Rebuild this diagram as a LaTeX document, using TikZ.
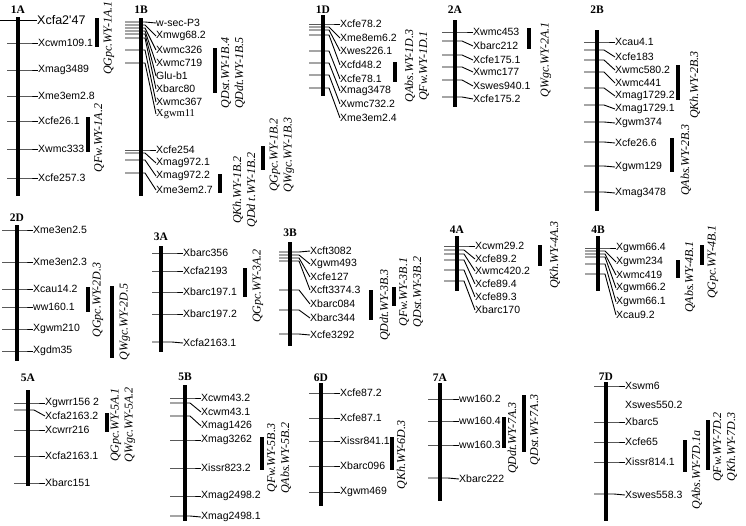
\documentclass[tikz,border=0pt]{standalone}
\usepackage{fontspec}
\setmainfont{Liberation Serif}
\newfontfamily\lab{Liberation Sans}
\newcounter{lb}
\tikzset{
 chrbar/.style={line width=3.6pt},
 tick/.style={line width=0.9pt},
 qbar/.style={line width=4pt},
 mlabel/.style={anchor=west,inner sep=0pt,font=\lab\fontsize{10.5}{12}\selectfont},
 qlabel/.style={rotate=90,inner sep=0pt,font=\itshape\fontsize{12}{13}\selectfont},
 ctitle/.style={inner sep=0pt,font=\bfseries\fontsize{11.5}{13}\selectfont}
}
% \mk{barx}{ticky}{labely}{text}
\newcommand\mk[4]{\stepcounter{lb}%
 \node[mlabel] (L\arabic{lb}) at (#1+18,#3) {#4};
 \draw[tick] (#1-13,#2) -- (#1+7,#2) -- (L\arabic{lb}.west);}
\newcommand\mn[3]{\stepcounter{lb}\node[mlabel] (L\arabic{lb}) at (#1+18,#2) {#3};}
\newcommand\chr[5]{\stepcounter{lb}\node[ctitle] (T\arabic{lb}) at (#1,#2) {#3};
 \draw[chrbar] (#1,#4) -- (#1,#5);}
\newcommand\qtl[3]{\draw[qbar] (#1,#2) -- (#1,#3);}
\newcommand\ql[3]{\stepcounter{lb}\node[qlabel] (Q\arabic{lb}) at (#1,#2) {#3};}
\begin{document}
\begin{tikzpicture}[x=1pt,y=-1pt]
\useasboundingbox[fill=white] (0,0) rectangle (746,525);
% 1A
\chr{18}{10}{1A}{17}{196}
\stepcounter{lb}\node[mlabel,font=\lab\fontsize{12.5}{14}\selectfont] (L\arabic{lb}) at (37,20) {Xcfa2'47};
\draw[tick] (0,20) -- (L\arabic{lb}.west);
\mk{20}{43}{43}{Xcwm109.1}
\mk{20}{70}{70}{Xmag3489}
\mk{20}{96}{96}{Xme3em2.8}
\mk{20}{121}{121}{Xcfe26.1}
\mk{20}{149}{149}{Xwmc333}
\mk{20}{178}{178}{Xcfe257.3}
\qtl{97}{18}{47}\ql{109}{38}{QGpc.WY-1A.1}
\qtl{88}{117}{152}\ql{99}{138}{QFw.WY-1A.2}
% 1B
\chr{141}{10}{1B}{18}{196}
\mk{138}{22}{23}{w-sec-P3}
\mk{138}{25}{36}{Xmwg68.2}
\mk{138}{28}{50}{Xwmc326}
\mk{138}{31}{63}{Xwmc719}
\mk{138}{34}{76}{Glu-b1}
\mk{138}{38}{89}{Xbarc80}
\mk{138}{50}{102}{Xwmc367}
\stepcounter{lb}\node[mlabel,font=\fontsize{10.5}{12}\selectfont] (L\arabic{lb}) at (156,114) {Xgwm11};
\draw[tick] (125,63) -- (145,63) -- (L\arabic{lb}.west);
\mk{138}{150}{150}{Xcfe254}
\mk{138}{153}{163}{Xmag972.1}
\mk{138}{160}{176}{Xmag972.2}
\mk{138}{173}{190}{Xme3em2.7}
\qtl{215}{48}{93}\ql{226}{73}{QDst.WY-1B.4}\ql{240}{73}{QDdt.WY-1B.5}
\qtl{220}{174}{193}\ql{238}{190}{QKh.WY-1B.2}\ql{252}{190}{QDd t.WY-1B.2}
\qtl{263}{146}{170}\ql{275}{155}{QGpc.WY-1B.2}\ql{289}{155}{QWgc.WY-1B.3}
% 1D
\chr{323}{10}{1D}{15}{96}
\mk{322}{24}{24}{Xcfe78.2}
\mk{322}{27}{38}{Xme8em6.2}
\mk{322}{30}{51}{Xwes226.1}
\mk{322}{35}{65}{Xcfd48.2}
\mk{322}{51}{79}{Xcfe78.1}
\mk{322}{63}{91}{Xmag3478}
\mk{322}{75}{104}{Xwmc732.2}
\mk{322}{88}{118}{Xme3em2.4}
\qtl{395}{62}{82}\ql{410}{66}{QAbs.WY-1D.3}\ql{424}{66}{QFw.WY-1D.1}
% 2A
\chr{455}{10}{2A}{20}{107}
\mk{455}{32}{32}{Xwmc453}
\mk{455}{41}{46}{Xbarc212}
\mk{455}{55}{60}{Xcfe175.1}
\mk{455}{67}{72}{Xwmc177}
\mk{455}{80}{86}{Xswes940.1}
\mk{455}{97}{99}{Xcfe175.2}
\qtl{529}{28}{49}\ql{546}{60}{QWgc.WY-2A.1}
% 2B
\chr{597}{10}{2B}{30}{211}
\mk{597}{42}{42}{Xcau4.1}
\mk{597}{50}{57}{Xcfe183}
\mk{597}{60}{70}{Xwmc580.2}
\mk{597}{72}{83}{Xwmc441}
\mk{597}{88}{96}{Xmag1729.2}
\mk{597}{105}{109}{Xmag1729.1}
\mk{597}{122}{123}{Xgwm374}
\mk{597}{142}{143}{Xcfe26.6}
\mk{597}{166}{167}{Xgwm129}
\mk{597}{192}{193}{Xmag3478}
\qtl{678}{65}{100}\ql{695}{85}{QKh.WY-2B.3}
\qtl{672}{138}{172}\ql{686}{160}{QAbs.WY-2B.3}
% 2D
\chr{17}{218}{2D}{225}{361}
\mk{15}{230}{230}{Xme3en2.5}
\mk{15}{262}{262}{Xme3en2.3}
\mk{15}{289}{289}{Xcau14.2}
\mk{15}{307}{307}{ww160.1}
\mk{15}{329}{329}{Xgwm210}
\mk{15}{351}{351}{Xgdm35}
\qtl{88}{287}{312}\ql{98}{300}{QGpc.WY-2D.3}
\qtl{112}{286}{358}\ql{125}{322}{QWgc.WY-2D.5}
% 3A
\chr{161}{237}{3A}{246}{352}
\mk{165}{253}{253}{Xbarc356}
\mk{165}{271}{271}{Xcfa2193}
\mk{165}{292}{292}{Xbarc197.1}
\mk{165}{314}{314}{Xbarc197.2}
\mk{165}{342}{343}{Xcfa2163.1}
\qtl{245}{268}{297}\ql{258}{286}{QGpc.WY-3A.2}
% 3B
\chr{290}{233}{3B}{242}{346}
\mk{292}{252}{251}{Xcft3082}
\mk{292}{255}{264}{Xgwm493}
\mk{292}{258}{277}{Xcfe127}
\mk{292}{261}{290}{Xcft3374.3}
\mk{292}{290}{304}{Xbarc084}
\mk{292}{310}{318}{Xbarc344}
\mk{292}{334}{335}{Xcfe3292}
\qtl{371}{290}{320}\ql{385}{305}{QDdt.WY-3B.3}
\qtl{394}{287}{306}\ql{404}{292}{QFw.WY-3B.1}\ql{418}{292}{QDst.WY-3B.2}
% 4A
\chr{457}{230}{4A}{236}{291}
\mk{457}{246}{246}{Xcwm29.2}
\mk{457}{250}{259}{Xcfe89.2}
\mk{457}{254}{271}{Xwmc420.2}
\mk{457}{260}{284}{Xcfe89.4}
\mk{457}{270}{297}{Xcfe89.3}
\mk{457}{281}{310}{Xbarc170}
\qtl{540}{245}{266}\ql{555}{255}{QKh.WY-4A.3}
% 4B
\chr{598}{230}{4B}{236}{291}
\mk{598}{248}{248}{Xgwm66.4}
\mk{598}{251}{262}{Xgwm234}
\mk{598}{254}{275}{Xwmc419}
\mk{598}{257}{288}{Xgwm66.2}
\mk{598}{264}{302}{Xgwm66.1}
\mk{598}{274}{315}{Xcau9.2}
\qtl{678}{260}{278}\ql{690}{277}{QAbs.WY-4B.1}
\qtl{702}{245}{265}\ql{713}{262}{QGpc.WY-4B.1}
% 5A
\chr{28}{378}{5A}{390}{486}
\mk{27}{403}{403}{Xgwrr156 2}
\mk{27}{410}{416}{Xcfa2163.2}
\mk{27}{430}{430}{Xcwrr216}
\mk{27}{456}{456}{Xcfa2163.1}
\mk{27}{483}{483}{Xbarc151}
\qtl{107}{413}{432}\ql{116}{425}{QGpc.WY-5A.1}\ql{130}{425}{QWgc.WY-5A.2}
% 5B
\chr{185}{377}{5B}{385}{521}
\mk{183}{398}{398}{Xcwm43.2}
\mk{183}{403}{412}{Xcwm43.1}
\mk{183}{416}{426}{Xmag1426}
\mk{183}{440}{440}{Xmag3262}
\mk{183}{468}{468}{Xissr823.2}
\mk{183}{496}{496}{Xmag2498.2}
\mk{183}{516}{517}{Xmag2498.1}
\qtl{262}{437}{470}\ql{272}{458}{QFw.WY-5B.3}\ql{286}{458}{QAbs.WY-5B.2}
% 6D
\chr{321}{378}{6D}{383}{506}
\mk{322}{393}{393}{Xcfe87.2}
\mk{322}{418}{418}{Xcfe87.1}
\mk{322}{441}{441}{Xissr841.1}
\mk{322}{466}{466}{Xbarc096}
\mk{322}{492}{492}{Xgwm469}
\qtl{392}{437}{470}\ql{402}{455}{QKh.WY-6D.3}
% 7A
\chr{440}{378}{7A}{383}{501}
\mk{441}{399}{399}{ww160.2}
\mk{441}{421}{421}{ww160.4}
\mk{441}{445}{445}{ww160.3}
\mk{441}{478}{479}{Xbarc222}
\qtl{504}{417}{448}\ql{513}{438}{QDdt.WY-7A.3}
\qtl{524}{395}{452}\ql{535}{430}{QDst.WY-7A.3}
% 7D
\chr{606}{377}{7D}{382}{521}
\mk{607}{386}{386}{Xswm6}
\mn{607}{405}{Xswes550.2}
\mk{607}{422}{422}{Xbarc5}
\mk{607}{442}{442}{Xcfe65}
\mk{607}{462}{462}{Xissr814.1}
\mk{607}{494}{495}{Xswes558.3}
\qtl{685}{440}{472}\ql{697}{470}{QAbs.WY-7D.1a}
\qtl{708}{420}{470}\ql{718}{447}{QFw.WY-7D.2}\ql{732}{447}{QKh.WY-7D.3}
\end{tikzpicture}
\end{document}
